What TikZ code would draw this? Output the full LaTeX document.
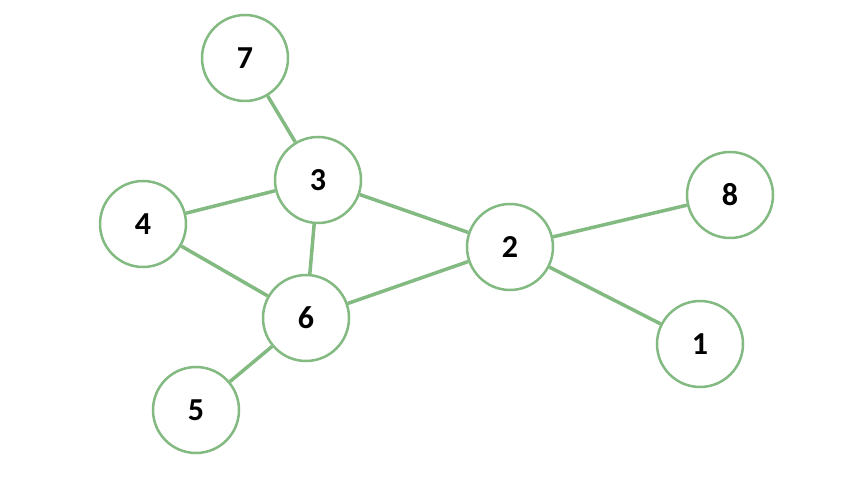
\documentclass[tikz,border=0pt]{standalone}
\usepackage{fontspec}
\setmainfont{Carlito}
\definecolor{gr}{RGB}{130,186,130}
\begin{document}
\begin{tikzpicture}[x=1pt,y=1pt,
  vtx/.style={circle,draw=gr,line width=2.5pt,fill=white,minimum size=86pt,inner sep=0pt,font=\bfseries\fontsize{32}{32}\selectfont},
  edge/.style={draw=gr,line width=3.5pt}]
\useasboundingbox (0,0) rectangle (856,482);
\node[vtx] (n7) at (245,424) {7};
\node[vtx] (n3) at (318,302) {3};
\node[vtx] (n4) at (143,258) {4};
\node[vtx] (n2) at (510,235) {2};
\node[vtx] (n8) at (730,287) {8};
\node[vtx] (n6) at (306,164) {6};
\node[vtx] (n1) at (700,138) {1};
\node[vtx] (n5) at (196,72) {5};
\begin{scope}[on background layer/.style={}]
\end{scope}
\path[edge] (n7)--(n3) (n3)--(n4) (n3)--(n2) (n3)--(n6) (n4)--(n6) (n6)--(n2) (n6)--(n5) (n2)--(n8) (n2)--(n1);
\end{tikzpicture}
\end{document}
